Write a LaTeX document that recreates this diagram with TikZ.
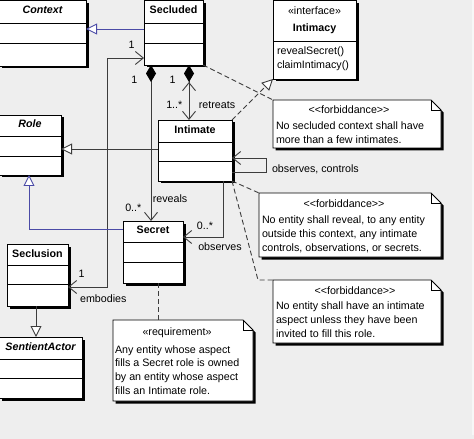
\documentclass[tikz,border=0pt]{standalone}
\usepackage{fontspec}
\setmainfont{Liberation Sans}
\usetikzlibrary{arrows.meta,fit,calc}
\definecolor{bgc}{HTML}{EEEEEE}
\definecolor{lnc}{HTML}{3C3C3C}
\definecolor{bluec}{HTML}{4A4AA6}
\tikzset{
  Nav/.tip={Straight Barb[length=8bp,width=13bp]},
  Dia/.tip={Diamond[length=17bp,width=10bp,fill=black,color=black]},
  Tri/.tip={Triangle[length=11bp,width=11bp,fill=white]},
  every node/.style={font=\fontsize{10.7bp}{14bp}\selectfont, inner sep=0pt, outer sep=0pt},
  boxfit/.style={draw=black, fill=white, line width=0.9bp},
  notefit/.style={draw=none, fill=none},
  sepline/.style={draw=black, line width=0.9bp},
  lbl/.style={anchor=base},
  lblw/.style={anchor=base west},
  assoc/.style={draw=lnc, line width=0.9bp},
  genline/.style={draw=lnc, line width=0.9bp, -{Tri}},
  genblue/.style={genline, draw=bluec},
  realline/.style={draw=lnc, line width=0.9bp, dash pattern=on 5bp off 3bp, -{Tri}},
  depline/.style={draw=lnc, line width=0.9bp, dash pattern=on 5bp off 3bp},
}
\newcommand\umlbox[9]{%
  \fill[black] (#2+2.5,#3+2.5) rectangle (#4+2.5,#5+2.5);
  \node[boxfit, fit={(#2,#3) (#4,#5)}] (#1) {};
  \draw[sepline] (#2,#6) -- (#4,#6);
  \draw[sepline] (#2,#7) -- (#4,#7);
  \node[lbl] (#1-t) at ({(#2+#4)/2},#8) {#9};
}
\newcommand\umlnote[5]{%
  \fill[black] (#2+2.5,#3+2.5) -- (#4-7.5,#3+2.5) -- (#4+2.5,#3+12.5) -- (#4+2.5,#5+2.5) -- (#2+2.5,#5+2.5) -- cycle;
  \node[notefit, fit={(#2,#3) (#4,#5)}] (#1) {};
  \filldraw[fill=white, draw=black, line width=0.9bp] (#1.north west) -- ([xshift=-10bp]#1.north east) -- ([yshift=-10bp]#1.north east) -- (#1.south east) -- (#1.south west) -- cycle;
  \draw[black, line width=0.9bp] ([xshift=-10bp]#1.north east) -- ([xshift=-10bp,yshift=-10bp]#1.north east) -- ([yshift=-10bp]#1.north east);
}
\begin{document}
\begin{tikzpicture}[x=1bp,y=-1bp]
\useasboundingbox (0,0) rectangle (474,439);
\fill[bgc] (0,0) rectangle (474,439);
\fill[white!55!bgc] (472,0) rectangle (474,435);
% classes
\umlbox{context}{-1}{0.5}{86}{66}{23}{43}{14}{\bfseries\itshape Context}
\umlbox{secluded}{144}{0.5}{203}{65}{23}{43}{14}{\bfseries Secluded}
\umlbox{role}{-1}{115}{61}{175}{136}{156}{127.5}{\bfseries\itshape Role}
\umlbox{intimate}{158}{120}{232}{181}{142}{161}{133.5}{\bfseries Intimate}
\umlbox{secret}{123}{221}{183}{283}{242}{262}{233.5}{\bfseries Secret}
\umlbox{seclusion}{7}{244}{68}{306}{265}{284}{257.5}{\bfseries Seclusion}
\umlbox{sentient}{-1}{337}{82}{398}{359}{378}{350}{\bfseries\itshape SentientActor}
% interface
\fill[black] (275.5,3) rectangle (358.5,81.5);
\node[boxfit, fit={(273,0.5) (356,79)}] (intimacy) {};
\draw[sepline] (273,41) -- (356,41);
\node[lbl] (intimacy-s) at (314.5,15) {«interface»};
\node[lbl] (intimacy-t) at (314.5,31.5) {\bfseries Intimacy};
\node[lblw] (intimacy-m1) at (277,54.7) {revealSecret()};
\node[lblw] (intimacy-m2) at (277,69) {claimIntimacy()};
% notes
\umlnote{n1}{273}{100}{441}{148}
\node[lbl] (n1-s) at (349,114) {<\kern0pt<forbiddance>\kern0pt>};
\node[lblw] (n1-a) at (276,130) {No secluded context shall have};
\node[lblw] (n1-b) at (276,143.3) {more than a few intimates.};
\umlnote{n2}{259}{193}{441}{257}
\node[lbl] (n2-s) at (344,207.3) {<\kern0pt<forbiddance>\kern0pt>};
\node[lblw] (n2-a) at (262,223.3) {No entity shall reveal, to any entity};
\node[lblw] (n2-b) at (262,237.3) {outside this context, any intimate};
\node[lblw] (n2-c) at (262,251.7) {controls, observations, or secrets.};
\umlnote{n3}{273}{280}{441}{343}
\node[lbl] (n3-s) at (355,294.7) {<\kern0pt<forbiddance>\kern0pt>};
\node[lblw] (n3-a) at (276,309) {No entity shall have an intimate};
\node[lblw] (n3-b) at (276,323.3) {aspect unless they have been};
\node[lblw] (n3-c) at (276,337.3) {invited to fill this role.};
\umlnote{n4}{113}{320}{253}{401}
\node[lbl] (n4-s) at (177,335) {«requirement»};
\node[lblw] (n4-a) at (115,353) {Any entity whose aspect};
\node[lblw] (n4-b) at (115,366.7) {fills a Secret role is owned};
\node[lblw] (n4-c) at (115,380.7) {by an entity whose aspect};
\node[lblw] (n4-d) at (115,394.7) {fills an Intimate role.};
% connectors
\coordinate (g1) at (0,29);
\draw[genblue] (secluded.west |- g1) -- (context.east |- g1);
\coordinate (e1) at (107,58);
\coordinate (e2) at (107,287);
\draw[assoc, {Nav}-{Nav}] (secluded.west |- e1) -- (e1) -- (e2) -- (seclusion.east |- e2);
\coordinate (r1) at (151,0);
\draw[assoc, {Dia}-{Nav}] (secluded.south -| r1) -- (secret.north -| r1);
\coordinate (t1) at (189,0);
\draw[assoc, {Dia[] Nav[]}-{Nav}] (secluded.south -| t1) -- (intimate.north -| t1);
\coordinate (ir) at (0,149);
\draw[genline] (intimate.west |- ir) -- (role.east |- ir);
\coordinate (sr) at (29,229);
\draw[genblue] (secret.west |- sr) -- (sr) -- (role.south -| sr);
\coordinate (sa) at (36,0);
\draw[genline] (seclusion.south -| sa) -- (sentient.north -| sa);
\coordinate (lp1) at (266,158);
\coordinate (lp2) at (266,172);
\draw[assoc, -{Nav}] (intimate.east |- lp2) -- (lp2) -- (lp1) -- (intimate.east |- lp1);
\coordinate (ob) at (223,237);
\draw[assoc, -{Nav}] (intimate.south -| ob) -- (ob) -- (secret.east |- ob);
\draw[realline] (intimate.north east) -- (intimacy.south west);
\draw[depline] (secluded.south east) -- (n1.north west);
\draw[depline] (intimate.south east) -- (n2.north west);
\coordinate (d3) at (258,0);
\draw[depline] (intimate.south east) -- (n3.north west -| d3) -- (n3.north west);
\coordinate (d4) at (158,0);
\draw[depline] (secret.south -| d4) -- (n4.north -| d4);
% labels
\node[lbl] (l-e1) at (131.7,48.3) {1};
\node[lbl] (l-r1) at (134.3,84) {1};
\node[lbl] (l-t1) at (172.7,84) {1};
\node[lbl] (l-t2) at (174.3,108.3) {1..*};
\node[lbl] (l-t3) at (217,108.3) {retreats};
\node[lbl] (l-r2) at (170,202.3) {reveals};
\node[lbl] (l-r3) at (133.3,211.7) {0..*};
\node[lbl] (l-o1) at (205,230) {0..*};
\node[lbl] (l-o2) at (220,250.7) {observes};
\node[lbl] (l-e2) at (81.7,277.3) {1};
\node[lbl] (l-e3) at (103.3,302.3) {embodies};
\node[lblw] (l-lp) at (272,172.3) {observes, controls};
\end{tikzpicture}
\end{document}
